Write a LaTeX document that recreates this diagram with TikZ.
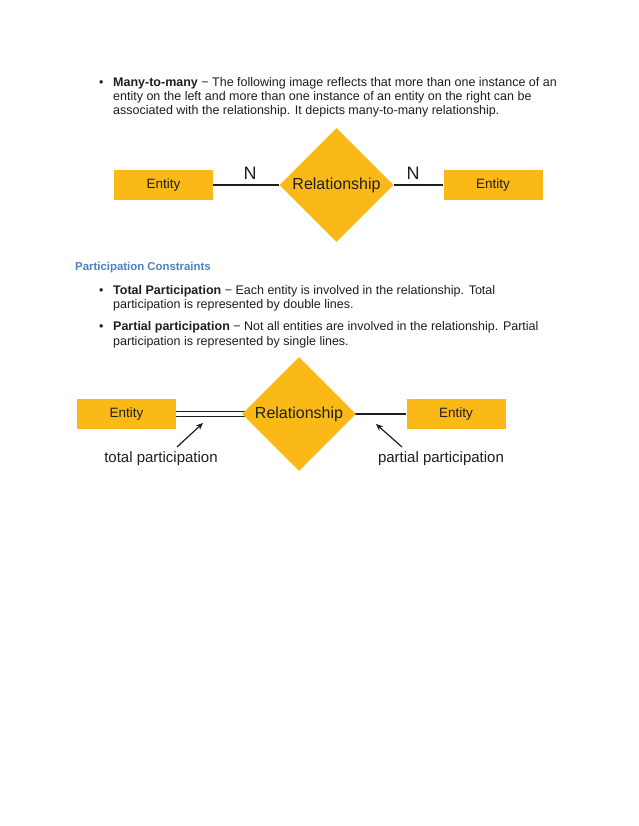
\documentclass[tikz,border=0pt]{standalone}
\usepackage{fontspec}
\setmainfont{Liberation Sans}
\usetikzlibrary{shapes.geometric,arrows.meta,backgrounds}
\definecolor{erfill}{RGB}{250,185,22}
\definecolor{erhead}{RGB}{79,129,189}
\definecolor{ertext}{RGB}{30,30,30}
\tikzset{
  bodyline/.style={anchor=base west,inner sep=0pt,font=\fontsize{12.5}{14}\selectfont,text=ertext},
  bulletmark/.style={anchor=base west,inner sep=0pt,font=\fontsize{12.5}{14}\selectfont,text=ertext},
  entitybox/.style={rectangle,fill=erfill,minimum width=99pt,minimum height=30pt,inner sep=0pt,font=\fontsize{13.5}{16}\selectfont,text=ertext},
  relbox/.style={diamond,aspect=1,fill=erfill,minimum width=114pt,minimum height=114pt,inner sep=0pt,font=\fontsize{16}{19}\selectfont,text=ertext},
  connector/.style={draw=ertext,line width=1.2pt},
  cardlabel/.style={inner sep=0pt,font=\fontsize{18}{20}\selectfont,text=ertext},
  partlabel/.style={inner sep=0pt,font=\fontsize{15}{18}\selectfont,text=ertext},
  pointer/.style={draw=ertext,line width=1.2pt,-{Stealth[length=7pt,width=6pt]}}
}
\begin{document}
\begin{tikzpicture}[x=1pt,y=-1pt]
\useasboundingbox (0,0) rectangle (638,826);
% first bullet
\node[bulletmark] (b1) at (99,86.5) {•};
\node[bodyline] (t1a) at (113,86.5) {\textbf{Many-to-many} − The following image reflects that more than one instance of an};
\node[bodyline] (t1b) at (113,100.5) {entity on the left and more than one instance of an entity on the right can be};
\node[bodyline] (t1c) at (113,114.5) {associated with the relationship. It depicts many-to-many relationship.};
% diagram 1
\node[entitybox] (e1) at (163.5,185) {Entity};
\node[relbox] (r1) at (336.5,185) {Relationship};
\node[entitybox] (e2) at (493,185) {Entity};
\draw[connector] (e1.east) -- (r1.west);
\draw[connector] (r1.east) -- (e2.west);
\node[cardlabel] (n1) at (250,173) {N};
\node[cardlabel] (n2) at (413,173) {N};
% heading
\node[anchor=base west,inner sep=0pt,font=\fontsize{11.4}{13}\selectfont\bfseries,text=erhead] (h1) at (75,270) {Participation Constraints};
% bullets 2 and 3
\node[bulletmark] (b2) at (99,294) {•};
\node[bodyline] (t2a) at (113,294) {\textbf{Total Participation} − Each entity is involved in the relationship. Total};
\node[bodyline] (t2b) at (113,308.5) {participation is represented by double lines.};
\node[bulletmark] (b3) at (99,330.5) {•};
\node[bodyline] (t3a) at (113,330.5) {\textbf{Partial participation} − Not all entities are involved in the relationship. Partial};
\node[bodyline] (t3b) at (113,345) {participation is represented by single lines.};
% diagram 2
\node[entitybox] (e3) at (126.5,414) {Entity};
\node[relbox] (r2) at (299,414) {Relationship};
\node[entitybox] (e4) at (456,414) {Entity};
\begin{scope}[on background layer]
\fill[white] (0,0) rectangle (638,826);
\draw[connector] ([yshift=-2.6pt]e3.east) -- ([yshift=-2.6pt]r2.center);
\draw[connector] ([yshift=2.6pt]e3.east) -- ([yshift=2.6pt]r2.center);
\draw[connector] (r2.center) -- (e4.west);
\end{scope}
\node[partlabel] (l1) at (161,459) {total participation};
\node[partlabel] (l2) at (441,459) {partial participation};
\coordinate (a1s) at (177,447);
\coordinate (a1e) at (203,423);
\coordinate (a2s) at (402,447);
\coordinate (a2e) at (376,424);
\draw[pointer] (a1s) -- (a1e);
\draw[pointer] (a2s) -- (a2e);
\end{tikzpicture}
\end{document}
